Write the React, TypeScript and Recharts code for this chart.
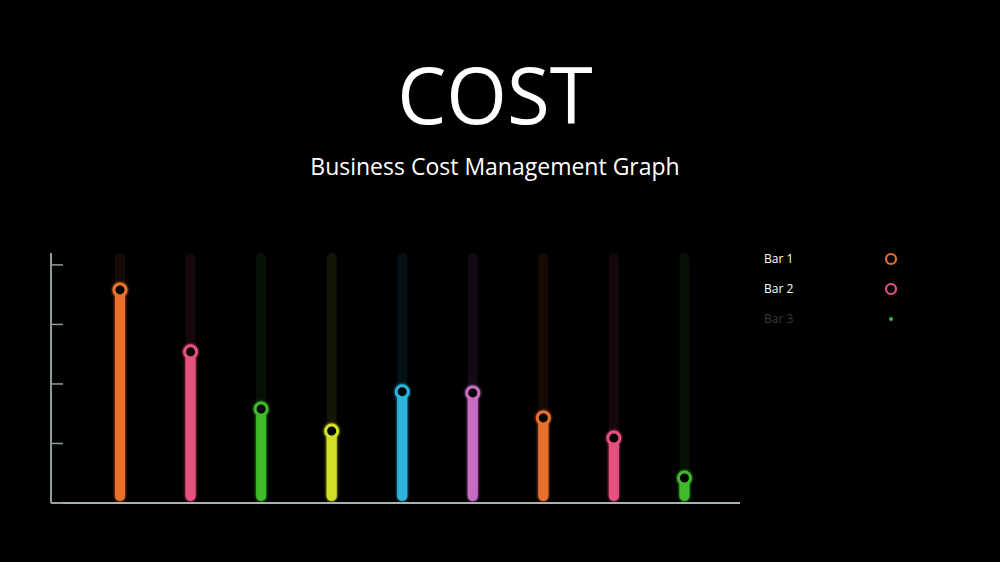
import { BarChart, Bar, XAxis, YAxis, Cell } from "recharts";

const categories = ["A", "B", "C", "D", "E", "F", "G", "H", "I"];
const costValues = [358, 254, 158, 121, 187, 185, 143, 109, 42];
const barColors = [
  "#e8702a",
  "#e5517f",
  "#3fba2c",
  "#d4e125",
  "#2fb4dc",
  "#c56cc4",
  "#e8702a",
  "#e5517f",
  "#3fba2c",
];
const yTicks = [0, 100, 200, 300, 400];

const legendLabels = ["Bar 1", "Bar 2", "Bar 3"];
const legendColors = ["#e8702a", "#e5517f", "#3fba2c"];
const legendTextColors = ["#ffffff", "#ffffff", "#3a3a3a"];

const chartData = categories.map((name, i) => ({
  name,
  cost: costValues[i],
  color: barColors[i],
}));

const LollipopBar = (props: any) => {
  const { x, y, width, height, payload } = props;
  const cx = x + width / 2;
  const bw = 10;
  return (
    <g filter="url(#glow)">
      <rect
        x={cx - bw / 2}
        y={y}
        width={bw}
        height={Math.max(height - 2, 0)}
        rx={5}
        fill={payload.color}
      />
      <circle cx={cx} cy={y} r={6} fill="#000" stroke={payload.color} strokeWidth={3} />
    </g>
  );
};

const Track = (props: any) => {
  const { x, y, width, height, index } = props;
  const cx = x + width / 2;
  return (
    <rect
      x={cx - 5}
      y={y}
      width={10}
      height={height}
      rx={5}
      fill={barColors[index]}
      fillOpacity={0.09}
    />
  );
};

const App = () => {
  return (
    <div
      style={{
        position: "absolute",
        top: 0,
        left: 0,
        width: 1000,
        height: 562,
        background: "#000",
        fontFamily: "'Open Sans', sans-serif",
        overflow: "hidden",
      }}
    >
      <div
        style={{
          position: "absolute",
          top: 44,
          left: 0,
          width: 990,
          textAlign: "center",
          color: "#fff",
          fontSize: 78,
          lineHeight: "100px",
        }}
      >
        COST
      </div>
      <div
        style={{
          position: "absolute",
          top: 151,
          left: 0,
          width: 990,
          textAlign: "center",
          color: "#fff",
          fontSize: 23,
          lineHeight: "30px",
        }}
      >
        Business Cost Management Graph
      </div>

      <div style={{ position: "absolute", top: 0, left: 0 }}>
        <BarChart
          width={1000}
          height={562}
          data={chartData}
          margin={{ top: 253, right: 260, bottom: 58, left: 51 }}
        >
          <defs>
            <filter id="glow" x="-100%" y="-10%" width="300%" height="120%">
              <feGaussianBlur stdDeviation="1.5" result="blur" />
              <feMerge>
                <feMergeNode in="blur" />
                <feMergeNode in="SourceGraphic" />
              </feMerge>
            </filter>
          </defs>
          <XAxis
            dataKey="name"
            padding={{ left: 34, right: 20 }}
            tick={false}
            tickLine={false}
            axisLine={{ stroke: "#a9b2ae", strokeWidth: 2 }}
            height={1}
          />
          <YAxis
            domain={[0, 420]}
            ticks={yTicks}
            allowDataOverflow
            mirror
            width={1}
            tickSize={12}
            tickFormatter={() => ""}
            tickLine={{ stroke: "#8c9c97", strokeWidth: 1.5 }}
            axisLine={{ stroke: "#8c9c97", strokeWidth: 2 }}
          />
          <Bar
            dataKey="cost"
            barSize={10}
            isAnimationActive={false}
            shape={LollipopBar}
            background={Track}
          >
            {chartData.map((d) => (
              <Cell key={d.name} fill={d.color} />
            ))}
          </Bar>
        </BarChart>
      </div>

      {legendLabels.map((label, i) => (
        <div key={label}>
          <div
            style={{
              position: "absolute",
              left: 764,
              top: 250 + i * 30,
              lineHeight: "18px",
              fontSize: 12,
              color: legendTextColors[i],
            }}
          >
            {label}
          </div>
          <svg
            style={{ position: "absolute", left: 881, top: 249 + i * 30 }}
            width={20}
            height={20}
          >
            {i < 2 ? (
              <circle cx={10} cy={10} r={5} fill="none" stroke={legendColors[i]} strokeWidth={2.2} />
            ) : (
              <circle cx={10} cy={10} r={2} fill={legendColors[i]} />
            )}
          </svg>
        </div>
      ))}
    </div>
  );
};

export default App;
